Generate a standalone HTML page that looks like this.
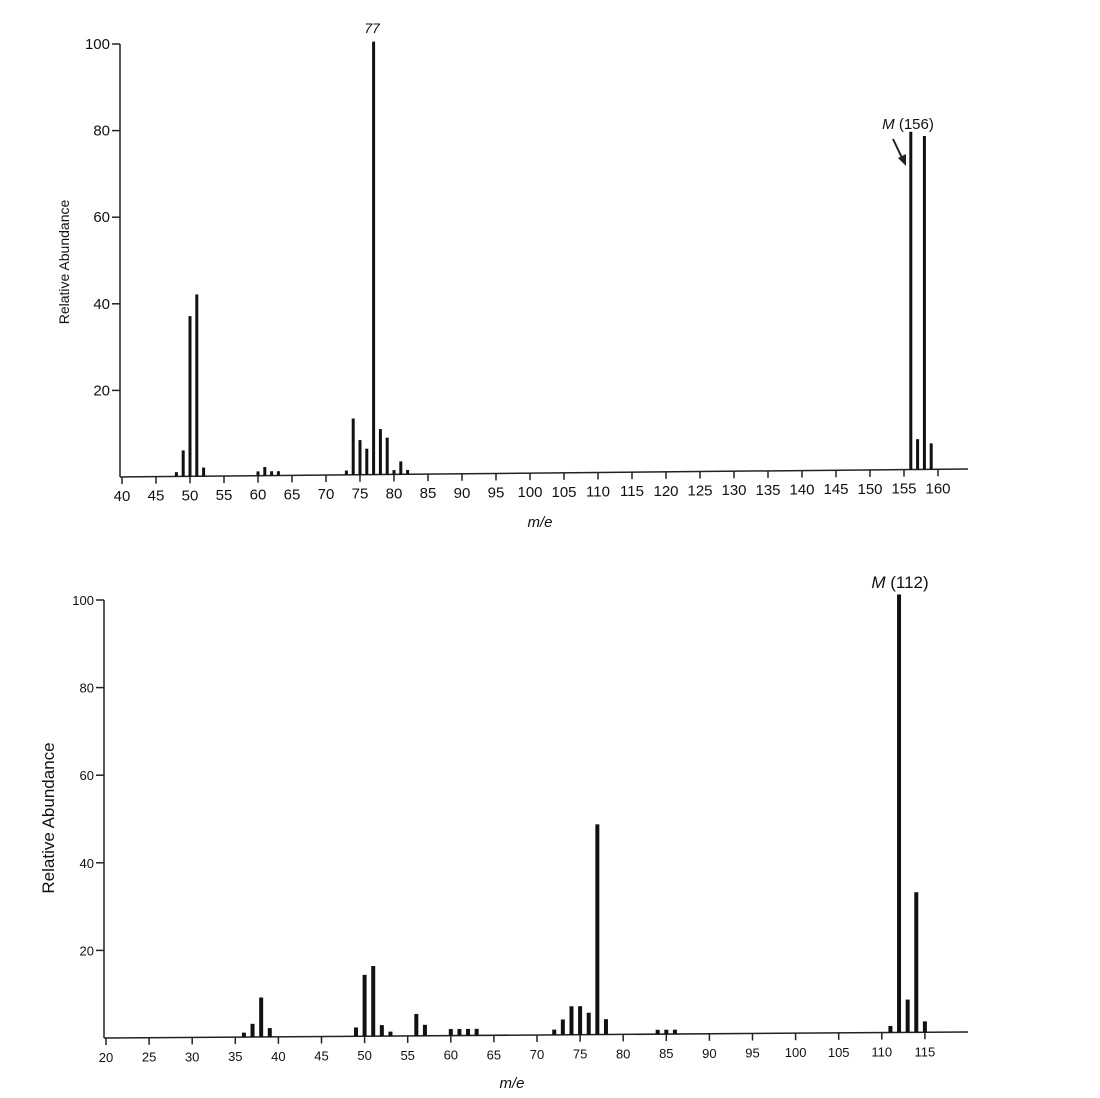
<!DOCTYPE html>
<html><head><meta charset="utf-8"><style>
body{margin:0;background:#fff;}
svg{display:block;font-family:"Liberation Sans",sans-serif;}
</style></head><body>
<svg id="svg" width="1100" height="1098" viewBox="0 0 1100 1098"></svg>
<script>
const topMz = [48,49,50,51,52,60,61,62,63,73,74,75,76,77,78,79,80,81,82,156,157,158,159];
const topAb = [1,6,37,42,2,1,2,1,1,1,13,8,6,100,10.5,8.5,1,3,1,78,7,77,6];
const topXTicks = [40,45,50,55,60,65,70,75,80,85,90,95,100,105,110,115,120,125,130,135,140,145,150,155,160];
const botMz = [36,37,38,39,49,50,51,52,53,56,57,60,61,62,63,72,73,74,75,76,77,78,84,85,86,111,112,113,114,115];
const botAb = [1,3,9,2,2,14,16,2.5,1,5,2.5,1.5,1.5,1.5,1.5,1.2,3.5,6.5,6.5,5,48,3.5,1,1,1,1.5,100,7.5,32,2.5];
const botXTicks = [20,25,30,35,40,45,50,55,60,65,70,75,80,85,90,95,100,105,110,115];
const yTicks = [20,40,60,80,100];

const svg = document.getElementById('svg');
const NS = 'http://www.w3.org/2000/svg';
function mk(tag, attrs, parent){const e=document.createElementNS(NS,tag);for(const k in attrs)e.setAttribute(k,attrs[k]);(parent||svg).appendChild(e);return e;}

function chart(cfg){
  const g = mk('g',{});
  
  
  const xs = m => cfg.x0 + (m - cfg.m0) * cfg.px;
  const base = x => cfg.b0 - (x - cfg.ax) * cfg.slant;
  const ys = (v, x) => base(x) - v / 100 * (cfg.b0 - cfg.y100);
  const ya = mk('line',{x1:cfg.ax,y1:cfg.y100,x2:cfg.ax,y2:cfg.b0,stroke:'#222','stroke-width':1.5},g);
  
  
  yTicks.forEach(t=>{
    const y = cfg.b0 - t/100*(cfg.b0-cfg.y100);
    mk('line',{x1:cfg.ax-8,y1:y,x2:cfg.ax,y2:y,stroke:'#222','stroke-width':1.5},g);
    const tx = mk('text',{x:cfg.ax-10,y:y+5,'text-anchor':'end','font-size':cfg.yfs,fill:'#111'},g);
    tx.textContent = t;
    
    
  });
  const xa = mk('line',{x1:cfg.ax,y1:cfg.b0,x2:968,y2:base(968),stroke:'#222','stroke-width':1.5},g);
  
  
  cfg.ticks.forEach(t=>{
    const x = xs(t), b = base(x);
    mk('line',{x1:x,y1:b,x2:x,y2:b+7,stroke:'#222','stroke-width':1.5},g);
    const tx = mk('text',{x:x,y:b+cfg.xoff,'text-anchor':'middle','font-size':cfg.xfs,fill:'#111'},g);
    tx.textContent = t;
    
    
  });
  cfg.mz.forEach((m,i)=>{
    const x = xs(m);
    const r = mk('rect',{x:x-cfg.bw/2,y:ys(cfg.ab[i],x),width:cfg.bw,height:cfg.ab[i]/100*(cfg.b0-cfg.y100),fill:'#111'},g);
    
    
  });
  const yl = mk('text',{x:0,y:0,transform:`translate(${cfg.ylx},${cfg.yly}) rotate(-90)`,'text-anchor':'middle','font-size':cfg.ylfs,fill:'#111'},g);
  yl.textContent='Relative Abundance';
  
  
  const xl = mk('text',{x:cfg.xlx,y:cfg.xly,'text-anchor':'middle','font-size':15,'font-style':'italic',fill:'#111'},g);
  xl.textContent='m/e';
  
  
  return {xs, ys};
}

chart({name:'top-spectrum',ax:120,x0:122,m0:40,px:6.8,b0:477,y100:44,slant:8/848,bw:3,
  mz:topMz,ab:topAb,ticks:topXTicks,ylx:69,yly:262,ylfs:14,xlx:540,xly:527,xfs:15,xoff:24,yfs:15});
chart({name:'bottom-spectrum',ax:104,x0:106,m0:20,px:8.62,b0:1038,y100:600,slant:6/864,bw:4,
  mz:botMz,ab:botAb,ticks:botXTicks,ylx:54,yly:818,ylfs:17,xlx:512,xly:1088,xfs:13,xoff:24,yfs:13});

let t = mk('text',{x:372,y:33,'text-anchor':'middle','font-size':14,'font-style':'italic',fill:'#111'});
t.textContent='77';


t = mk('text',{x:908,y:129,'text-anchor':'middle','font-size':15,fill:'#111'});
t.innerHTML='<tspan font-style="italic">M</tspan> (156)';


const ar = mk('g',{});


mk('line',{x1:893,y1:139,x2:903,y2:160,stroke:'#222','stroke-width':2},ar);
mk('polygon',{points:'906,166 898,158 906,154',fill:'#222'},ar);
t = mk('text',{x:900,y:588,'text-anchor':'middle','font-size':17,fill:'#111'});
t.innerHTML='<tspan font-style="italic">M</tspan> (112)';


</script>
</body></html>
